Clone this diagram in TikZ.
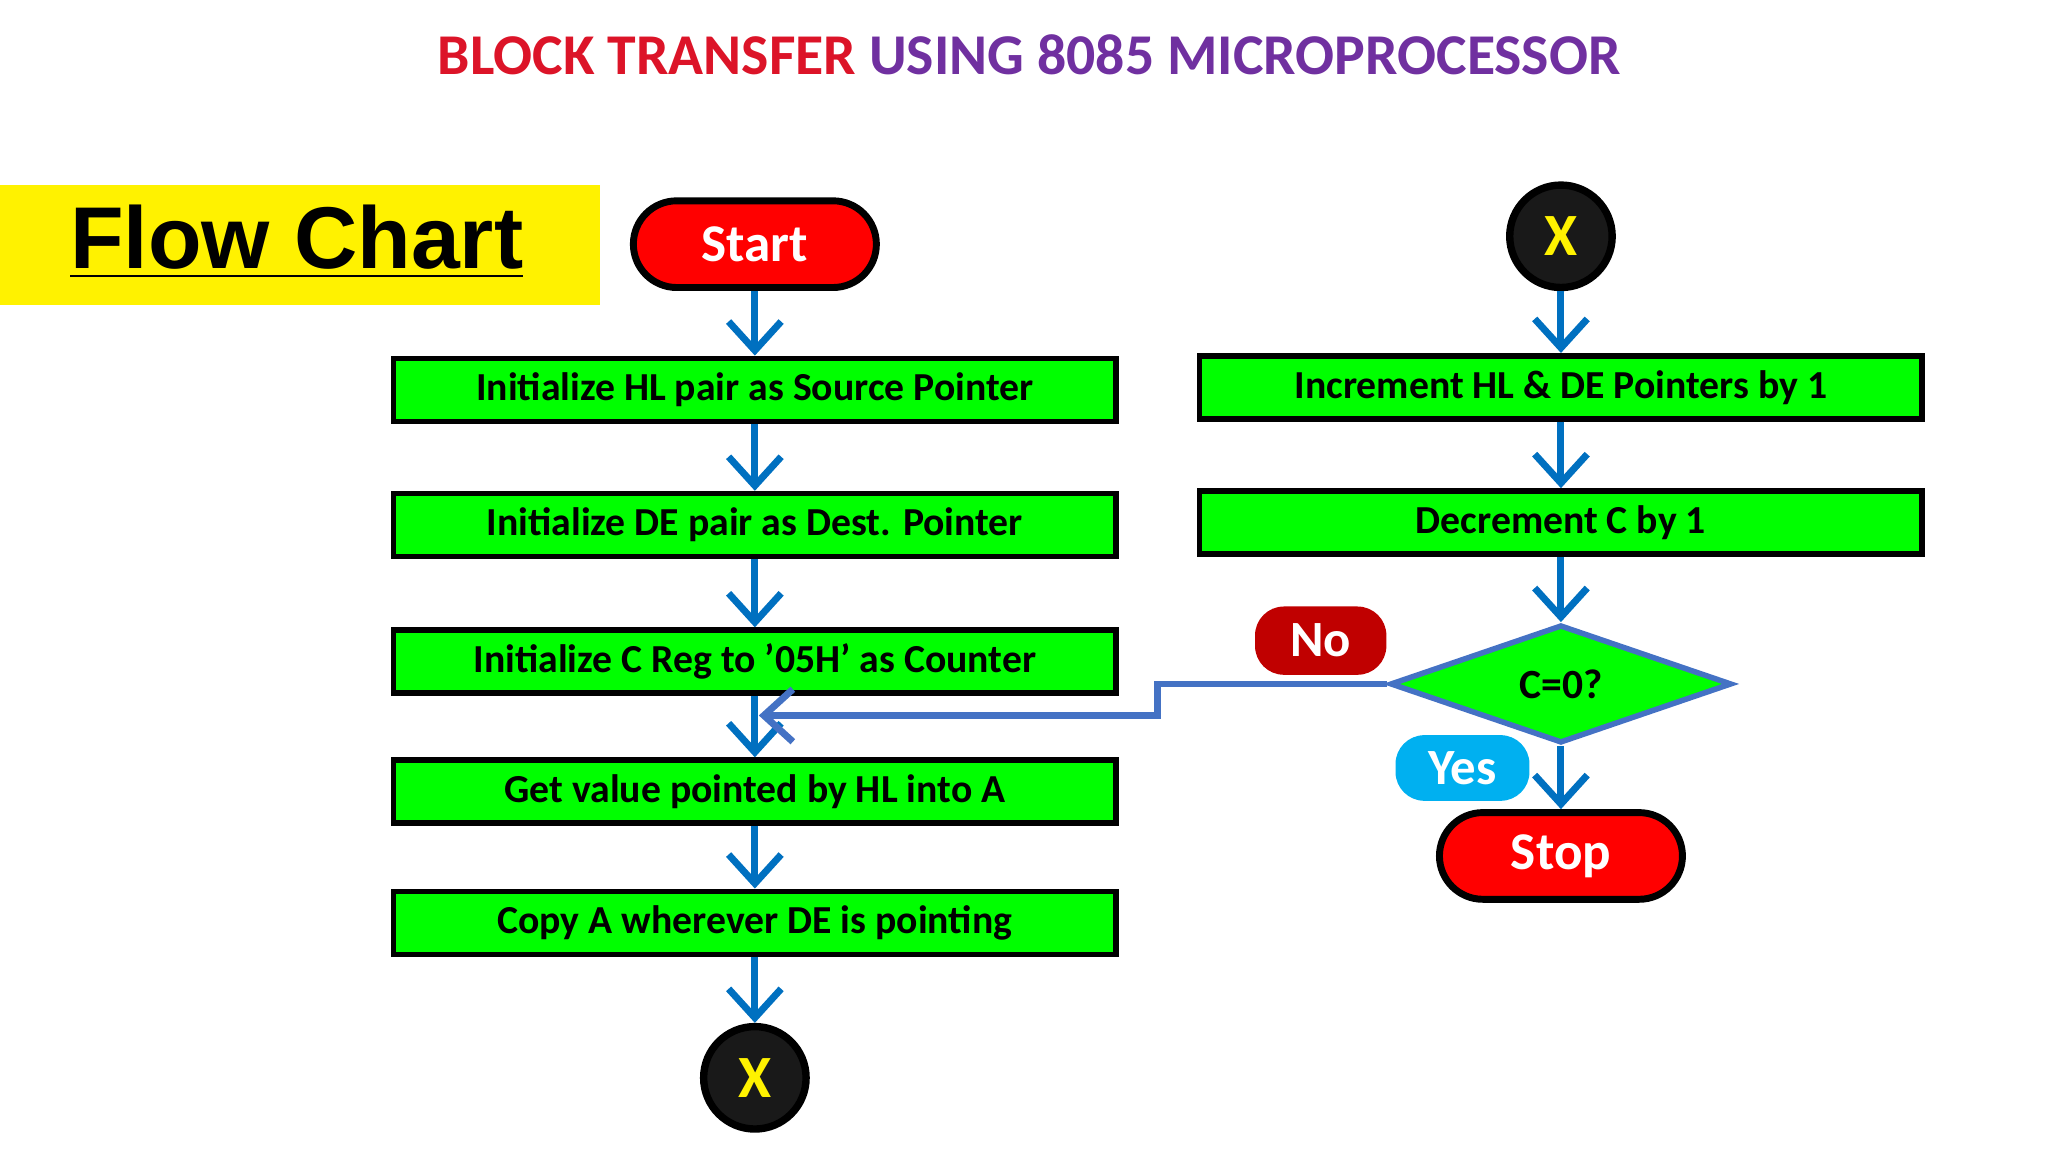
\documentclass[tikz,border=0pt]{standalone}
\usepackage{fontspec}
\setmainfont{Carlito}
\newfontfamily\arialb{Liberation Sans}
\usetikzlibrary{arrows.meta,shapes.geometric}
\definecolor{arr}{RGB}{0,112,192}
\definecolor{grn}{RGB}{0,255,0}
\definecolor{ttlred}{RGB}{220,20,40}
\definecolor{ttlpur}{RGB}{112,48,160}
\definecolor{nored}{RGB}{192,0,0}
\definecolor{yescy}{RGB}{0,176,240}
\definecolor{noline}{RGB}{68,114,196}
\begin{document}
\begin{tikzpicture}[x=0.01cm,y=-0.01cm,
 procbox/.style={draw=black,line width=1.2pt,fill=grn,minimum width=5.5cm,minimum height=0.48cm,inner sep=0pt,font=\bfseries\fontsize{8.6}{10}\selectfont},
 termbox/.style={draw=black,line width=1.5pt,fill=red,rounded corners=0.33cm,minimum width=1.85cm,minimum height=0.66cm,text=white,font=\bfseries\fontsize{11.5}{13}\selectfont},
 conn/.style={draw=black,line width=1.6pt,circle,fill=black!90,minimum size=0.78cm,inner sep=0pt,text=yellow,font=\bfseries\fontsize{13}{15}\selectfont},
 flow/.style={arr,line width=1.5pt,-{Straight Barb[length=2.2mm,width=4mm,line width=1.5pt]}}]
\useasboundingbox (0,0) rectangle (1560,877);
\node at (784,42) {\bfseries\fontsize{12.5}{14}\selectfont\textcolor{ttlred}{BLOCK TRANSFER} \textcolor{ttlpur}{USING 8085 MICROPROCESSOR}};
\fill[yellow] (0,141) rectangle (457,232);
\node at (226,184) {\arialb\bfseries\fontsize{19}{22}\selectfont\underline{Flow Chart}};
\node[termbox] (start) at (575,186) {Start};
\node[procbox] (b1) at (575,297) {Initialize HL pair as Source Pointer};
\node[procbox] (b2) at (575,400) {Initialize DE pair as Dest. Pointer};
\node[procbox] (b3) at (575,504) {Initialize C Reg to ’05H’ as Counter};
\node[procbox] (b4) at (575,603) {Get value pointed by HL into A};
\node[procbox] (b5) at (575,703) {Copy A wherever DE is pointing};
\node[conn] (x1) at (575,821) {X};
\node[conn] (x2) at (1189,180) {X};
\node[procbox] (r1) at (1189,295) {Increment HL \& DE Pointers by 1};
\node[procbox] (r2) at (1189,398) {Decrement C by 1};
\node[diamond,draw=noline,line width=1.2pt,fill=grn,minimum width=2.6cm,minimum height=0.9cm,inner sep=0pt,aspect=2.9,font=\bfseries\fontsize{9}{11}\selectfont] (d) at (1189,521) {C=0?};
\node[termbox] (stop) at (1189,652) {Stop};
\node[fill=nored,rounded corners=0.22cm,minimum width=1.0cm,minimum height=0.52cm,text=white,font=\bfseries\fontsize{11}{13}\selectfont] (no) at (1006,488) {No};
\node[fill=yescy,rounded corners=0.22cm,minimum width=1.02cm,minimum height=0.5cm,text=white,font=\bfseries\fontsize{11}{13}\selectfont] (yes) at (1114,585) {Yes};
\draw[flow] (start) -- (b1);
\draw[flow] (b1) -- (b2);
\draw[flow] (b2) -- (b3);
\draw[flow] (b3) -- (b4);
\draw[flow] (b4) -- (b5);
\draw[flow] (b5) -- (x1);
\draw[flow] (x2) -- (r1);
\draw[flow] (r1) -- (r2);
\draw[flow] (r2) -- (d);
\draw[flow] (d) -- (stop);
\coordinate (j) at (578,545);
\draw[noline,line width=1.5pt,-{Straight Barb[length=2.2mm,width=4mm,line width=1.5pt]}] (d.west) -- (882,521) -- (882,545) -- (j);
\end{tikzpicture}
\end{document}
